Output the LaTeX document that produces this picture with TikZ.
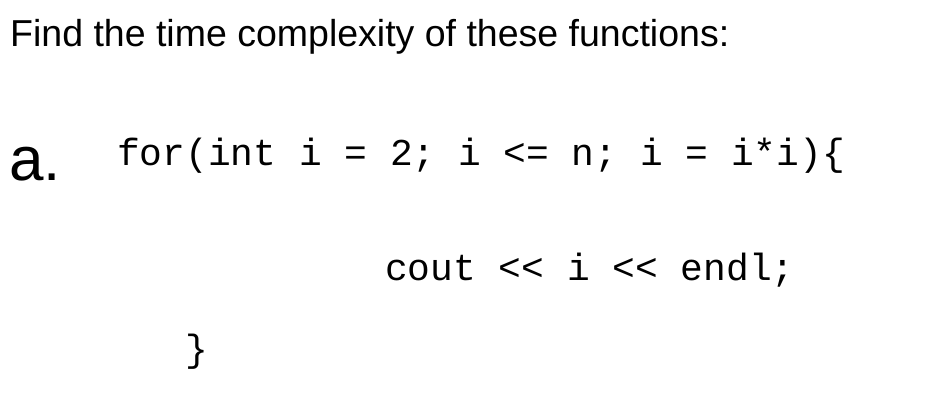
\documentclass[tikz,border=0pt]{standalone}
\usepackage{fontspec}
\setmainfont{Liberation Sans}
\newfontfamily\codefont{Liberation Mono}
\begin{document}
\begin{tikzpicture}[x=1pt,y=-1pt,
  txt/.style={anchor=base west,inner sep=0pt},
  code/.style={txt,font=\codefont\fontsize{37.9}{40}\selectfont}]
\useasboundingbox[fill=white] (0,0) rectangle (930,416);
\node[txt,font=\fontsize{37.5}{40}\selectfont] (title) at (10,46) {Find the time complexity of these functions:};
\node[txt,font=\fontsize{62}{64}\selectfont] (a) at (9,180) {a.};
\node[code] (l1) at (117,165) {for(int i = 2; i <= n; i = i*i)\{};
\node[code] (l2) at (385,280) {cout << i << endl;};
\node[code] (l3) at (185,361) {\}};
\end{tikzpicture}
\end{document}
